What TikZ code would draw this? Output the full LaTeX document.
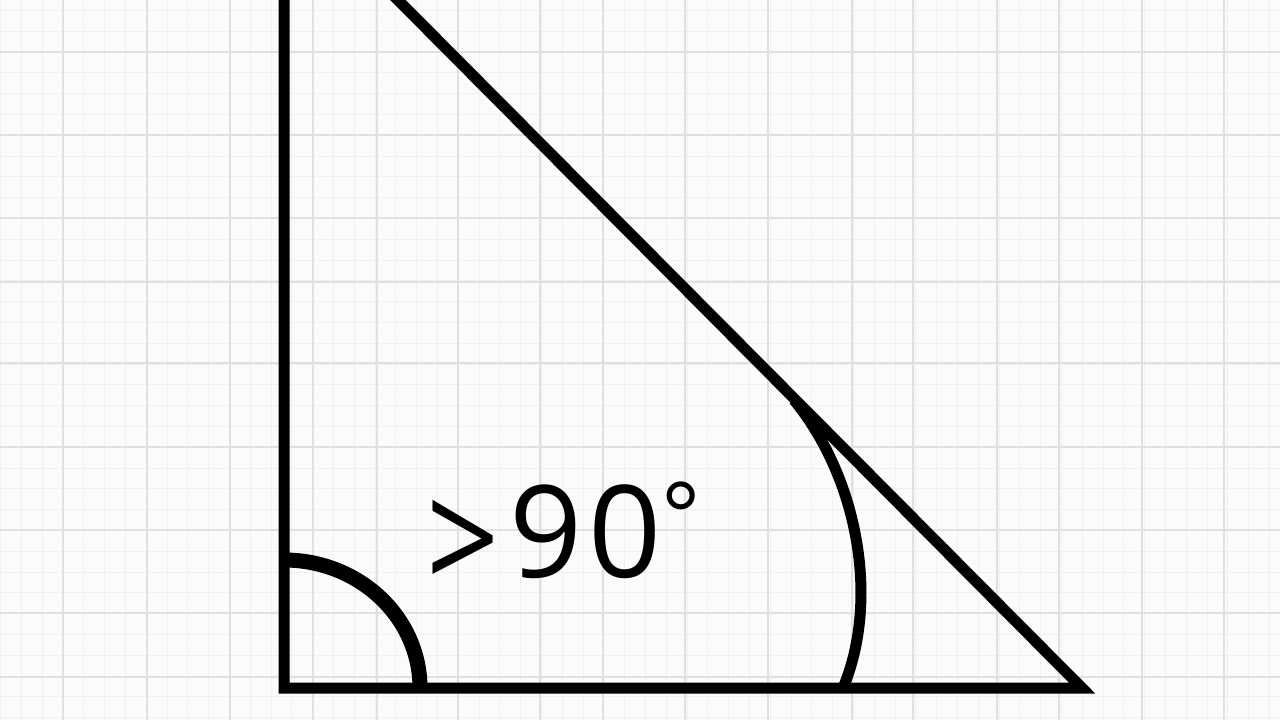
\documentclass[tikz,border=0pt]{standalone}
\usepackage{fontspec}
\usepackage{graphicx}
\newfontfamily\labelfont{Open Sans}
\definecolor{paper}{HTML}{FBFBFB}
\definecolor{minorgrid}{HTML}{F0F0F0}
\definecolor{majorgrid}{HTML}{E0E0E0}
\tikzset{
  minorline/.style={draw=minorgrid, line width=0.9pt},
  majorline/.style={draw=majorgrid, line width=1.3pt},
  figline/.style={draw=black, line width=11pt, line join=miter},
  anglemark/.style={draw=black, line width=15pt},
  bigarc/.style={draw=black, line width=11pt},
}
\begin{document}
\begin{tikzpicture}[x=1pt,y=-1pt]
  \useasboundingbox (0,0) rectangle (1280,720);
  \fill[paper] (0,0) rectangle (1280,720);
  % minor grid
  \foreach \i in {0,...,62} {
    \draw[minorline] ({\i*20.8+0.6},0) -- ({\i*20.8+0.6},720);
  }
  \foreach \i in {0,...,35} {
    \draw[minorline] (0,{\i*20.8+10.4}) -- (1280,{\i*20.8+10.4});
  }
  % major grid
  \foreach \x in {63,147,230,313,377,458,540,603,685,768,852,913,997,1059,1142,1224} {
    \draw[majorline] (\x,0) -- (\x,720);
  }
  \foreach \y in {52,135,218,282,363,447,530,613,677} {
    \draw[majorline] (0,\y) -- (1280,\y);
  }
  % triangle
  \coordinate (T1) at (284,-10);
  \coordinate (A) at (284,688);
  \coordinate (B) at (1082,688);
  \coordinate (T2) at (388,-10);
  \draw[figline] (T1) -- (A) -- (B) -- (T2);
  % right-angle mark
  \coordinate (R1) at (420,688);
  \draw[anglemark] (R1) arc[start angle=0, end angle=-90, x radius=136, y radius=128];
  % large arc
  \coordinate (S1) at (843,688);
  \coordinate (S2) at (794,400);
  \draw[bigarc] (S1) .. controls (880,600) and (858,478) .. (S2);
  % label
  \node[anchor=base west, inner sep=0pt, font=\labelfont\fontsize{128}{128}\selectfont] (lbl) at (426,577)
    {\raisebox{-15pt}{\scalebox{1}[1.19]{>}}\hspace{10pt}9\hspace{6pt}0\hspace{0pt}{\fontsize{92}{92}\selectfont\raisebox{29pt}{°}}};
\end{tikzpicture}
\end{document}
